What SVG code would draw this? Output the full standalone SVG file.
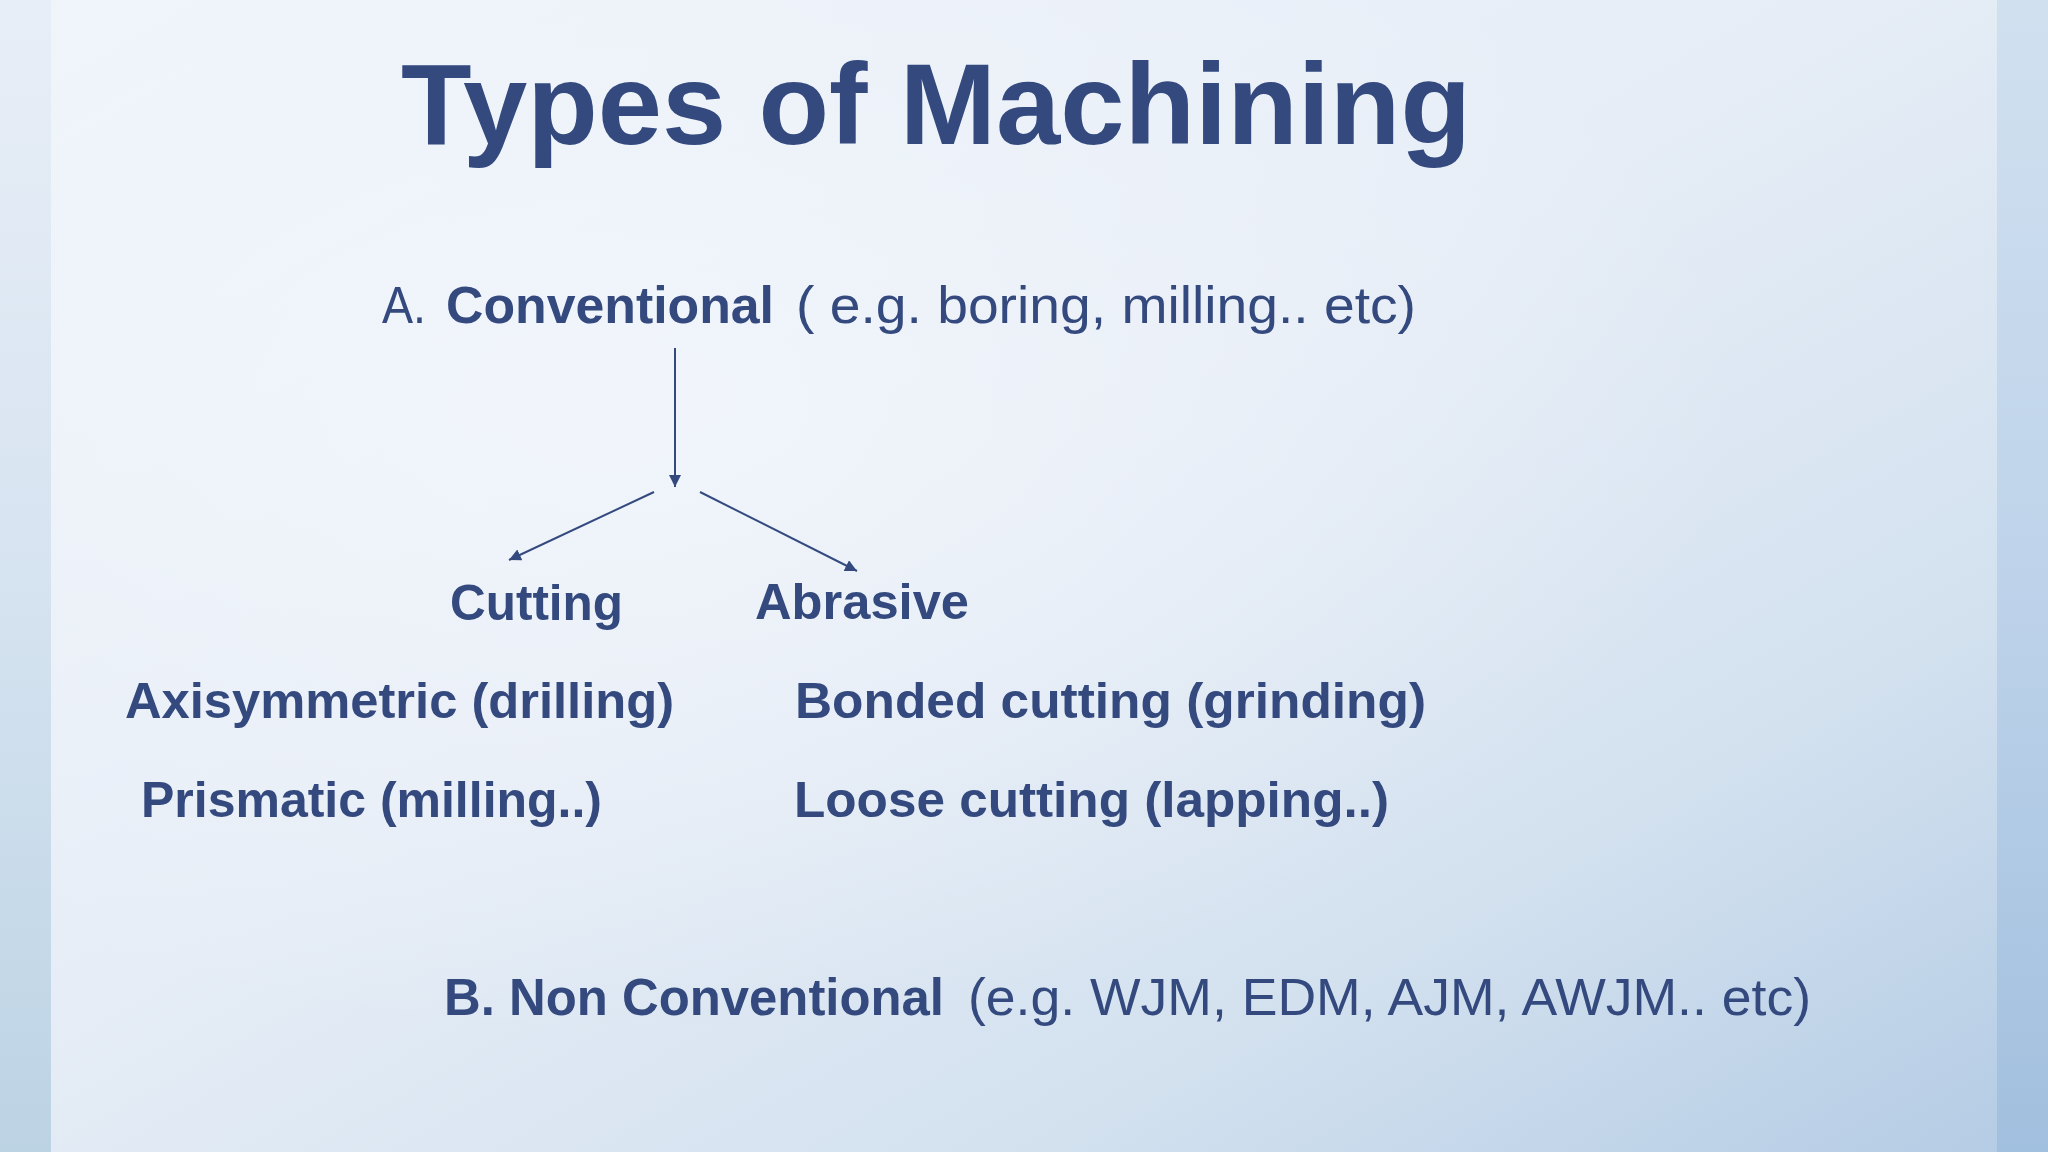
<svg xmlns="http://www.w3.org/2000/svg" width="2048" height="1152" viewBox="0 0 2048 1152">
  <defs>
    <linearGradient id="bg" x1="0" y1="0" x2="1" y2="1">
      <stop offset="0" stop-color="#eff4fb"/>
      <stop offset="0.45" stop-color="#e6edf6"/>
      <stop offset="0.75" stop-color="#d3e1ef"/>
      <stop offset="1" stop-color="#b3cbe4"/>
    </linearGradient>
    <radialGradient id="glow" cx="0.3" cy="0.35" r="0.55">
      <stop offset="0" stop-color="#f3f6fc" stop-opacity="0.8"/>
      <stop offset="1" stop-color="#f3f6fc" stop-opacity="0"/>
    </radialGradient>
    <linearGradient id="leftStrip" x1="0" y1="0" x2="0" y2="1">
      <stop offset="0" stop-color="#e8eef7"/>
      <stop offset="0.5" stop-color="#d6e3f0"/>
      <stop offset="1" stop-color="#bcd3e4"/>
    </linearGradient>
    <linearGradient id="rightStrip" x1="0" y1="0" x2="0" y2="1">
      <stop offset="0" stop-color="#d0e0ef"/>
      <stop offset="0.5" stop-color="#bed3ea"/>
      <stop offset="1" stop-color="#a1bfde"/>
    </linearGradient>
    <marker id="arrow" markerUnits="userSpaceOnUse" markerWidth="13" markerHeight="12" refX="12" refY="6" orient="auto">
      <path d="M0,0 L12,6 L0,12 z" fill="#344a7f"/>
    </marker>
    <style>
      .t { fill: #344a7f; font-family: "Liberation Sans", Arial, sans-serif; }
      .b { font-weight: bold; }
      .r { font-weight: normal; }
      .conn { stroke: #344a7f; stroke-width: 2; fill: none; marker-end: url(#arrow); }
    </style>
  </defs>

  <rect x="0" y="0" width="2048" height="1152" fill="url(#bg)"/>
  <rect x="0" y="0" width="2048" height="1152" fill="url(#glow)"/>
  <rect x="0" y="0" width="51" height="1152" fill="url(#leftStrip)"/>
  <rect x="1997" y="0" width="51" height="1152" fill="url(#rightStrip)"/>

  <g id="title">
    <text class="t b" x="401" y="144" font-size="115" textLength="1070" lengthAdjust="spacingAndGlyphs">Types of Machining</text>
  </g>

  <g id="conventional">
    <text class="t r" x="382" y="323" font-size="52" textLength="44" lengthAdjust="spacingAndGlyphs">A.</text>
    <text class="t b" x="446" y="323" font-size="52" textLength="328" lengthAdjust="spacingAndGlyphs">Conventional</text>
    <text class="t r" x="796" y="323" font-size="52" textLength="620" lengthAdjust="spacingAndGlyphs">( e.g. boring, milling.. etc)</text>
  </g>

  <g id="connectors">
    <line class="conn" x1="675" y1="348" x2="675" y2="487"/>
    <line class="conn" x1="654" y1="492" x2="509" y2="560"/>
    <line class="conn" x1="700" y1="492" x2="857" y2="571"/>
  </g>

  <g id="cutting">
    <text class="t b" x="450" y="620" font-size="50" textLength="173" lengthAdjust="spacingAndGlyphs">Cutting</text>
  </g>
  <g id="abrasive">
    <text class="t b" x="755" y="619" font-size="50" textLength="214" lengthAdjust="spacingAndGlyphs">Abrasive</text>
  </g>
  <g id="axisymmetric">
    <text class="t b" x="125" y="718" font-size="50" textLength="549" lengthAdjust="spacingAndGlyphs">Axisymmetric (drilling)</text>
  </g>
  <g id="prismatic">
    <text class="t b" x="141" y="817" font-size="50" textLength="461" lengthAdjust="spacingAndGlyphs">Prismatic (milling..)</text>
  </g>
  <g id="bonded">
    <text class="t b" x="795" y="718" font-size="50" textLength="631" lengthAdjust="spacingAndGlyphs">Bonded cutting (grinding)</text>
  </g>
  <g id="loose">
    <text class="t b" x="794" y="817" font-size="50" textLength="595" lengthAdjust="spacingAndGlyphs">Loose cutting (lapping..)</text>
  </g>

  <g id="nonconventional">
    <text class="t b" x="444" y="1015" font-size="52" textLength="500" lengthAdjust="spacingAndGlyphs">B. Non Conventional</text>
    <text class="t r" x="968" y="1015" font-size="52" textLength="843" lengthAdjust="spacingAndGlyphs">(e.g. WJM, EDM, AJM, AWJM.. etc)</text>
  </g>
</svg>
